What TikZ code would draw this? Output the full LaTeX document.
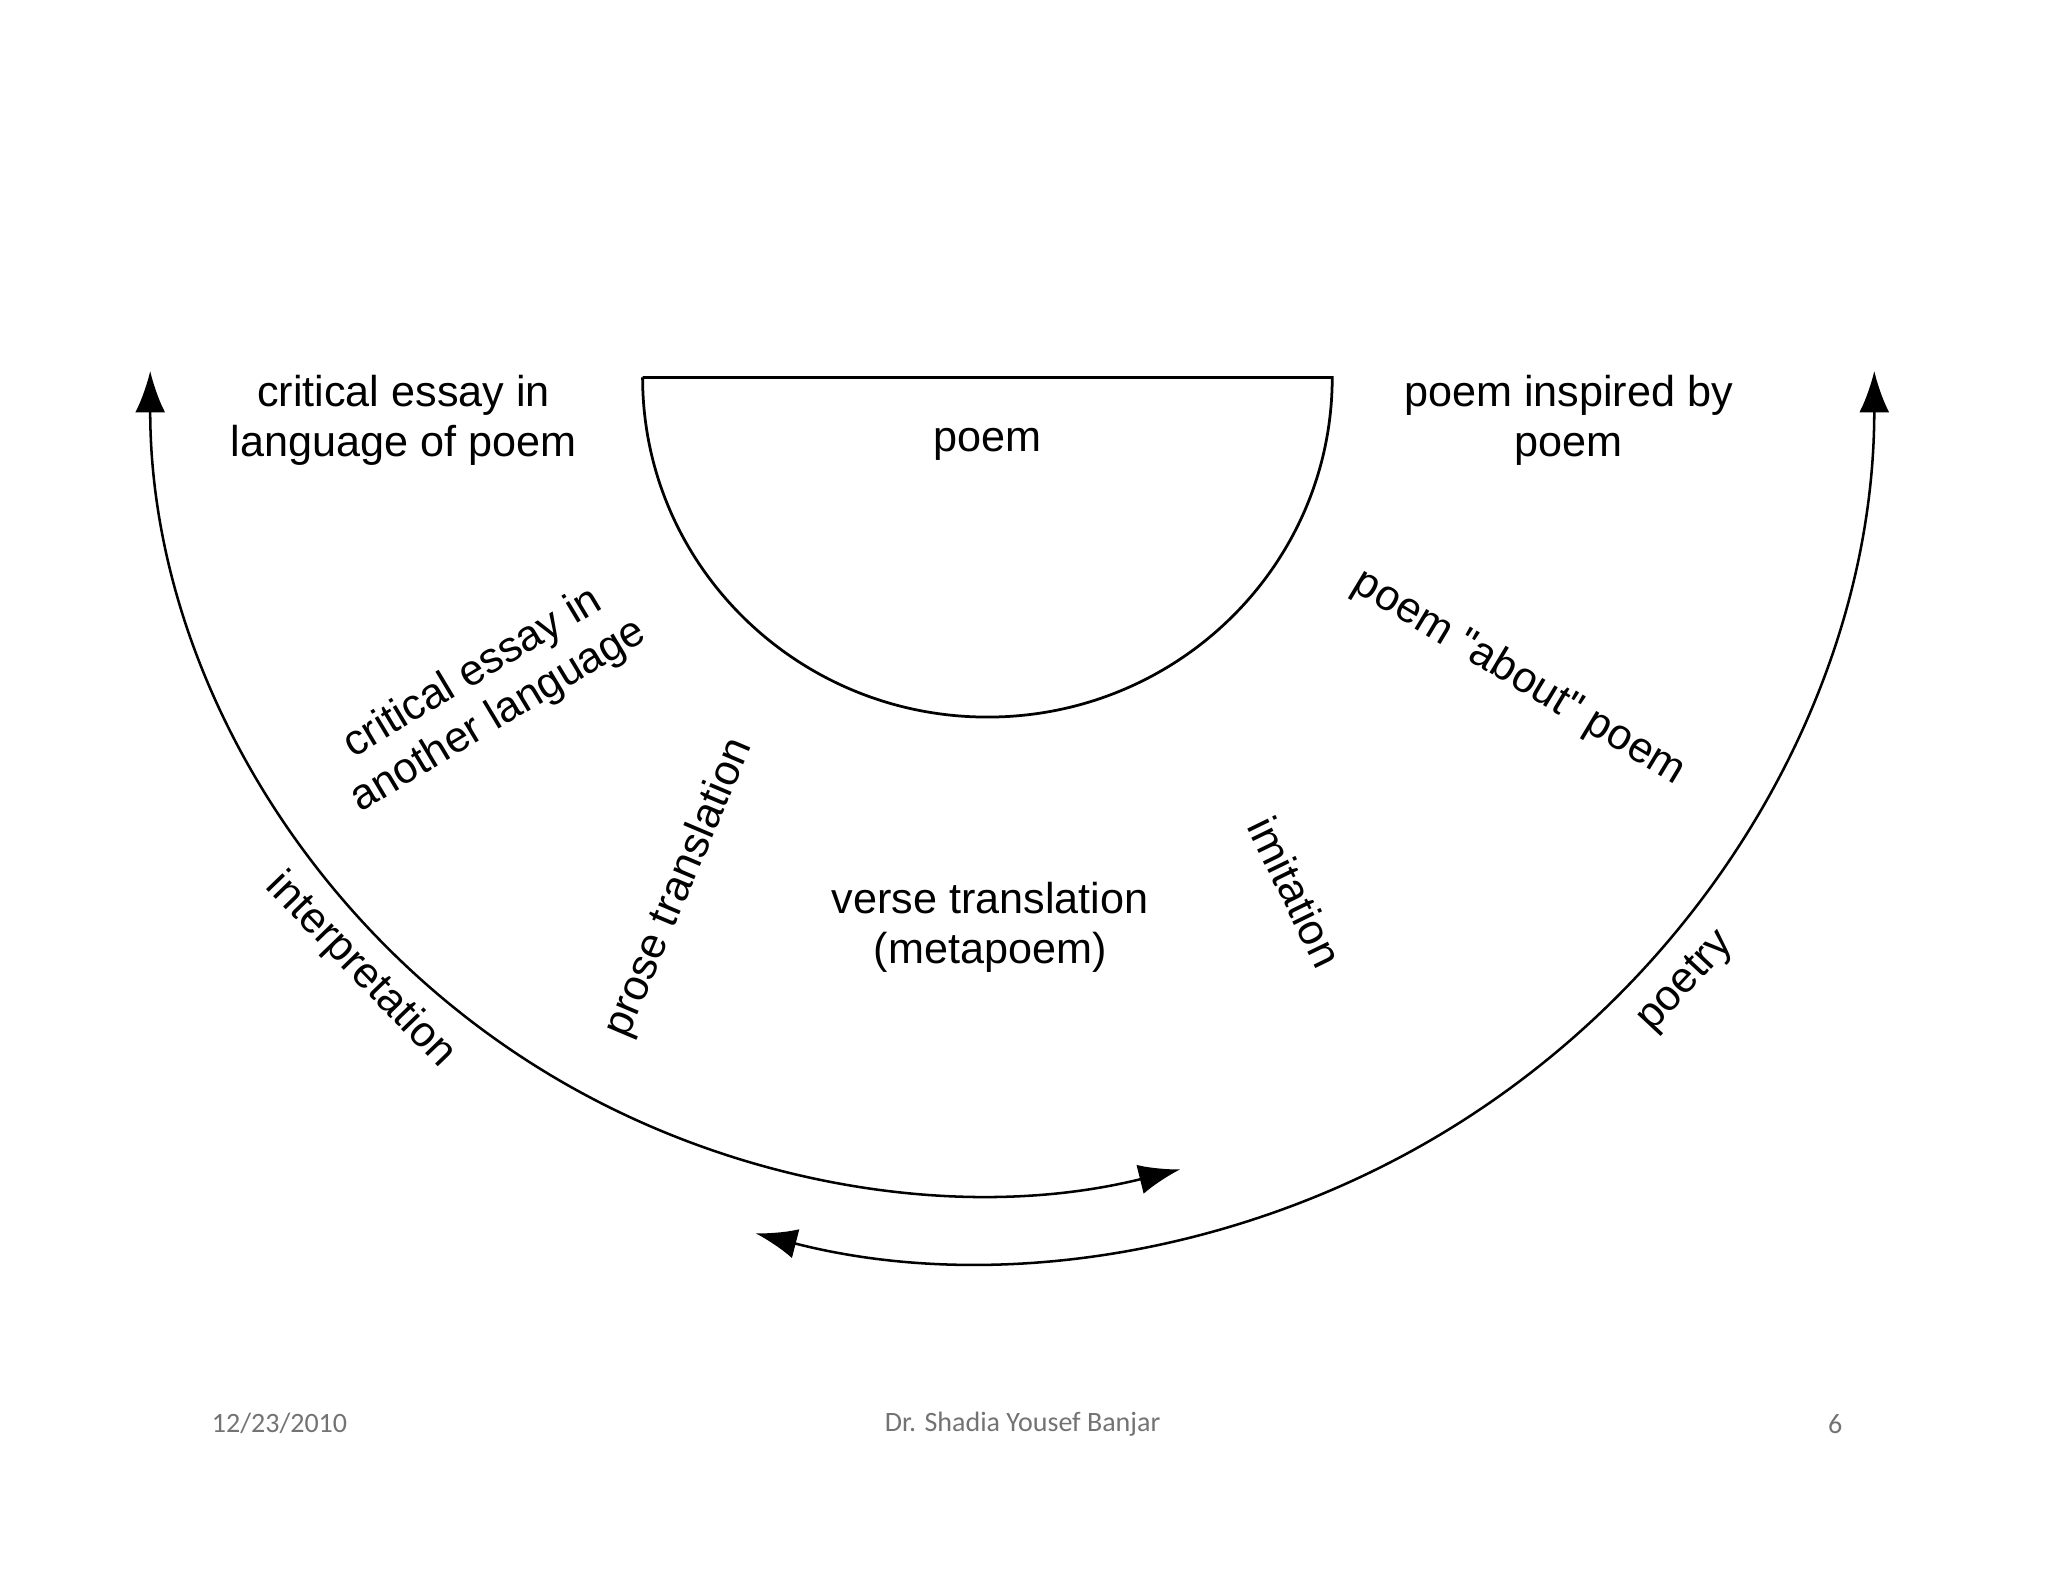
\documentclass[tikz,border=0pt]{standalone}
\usepackage{fontspec}
\setmainfont{Liberation Sans}
\newfontfamily\qfont{Liberation Sans}[Ligatures=ResetAll]
\newfontfamily\footfont{Carlito}
\usetikzlibrary{arrows.meta}
\begin{document}
\begin{tikzpicture}[x=0.01cm,y=-0.01cm,
  lbl/.style={font=\fontsize{9.4}{10.9}\selectfont,align=center,inner sep=0},
  foot/.style={font=\footfont\fontsize{6.1}{7}\selectfont,text=black!55,inner sep=0},
  arr/.style={line width=0.55pt,{Latex[length=9pt,width=6.5pt]}-{Latex[length=9pt,width=6.5pt]}}]
\useasboundingbox (0,0) rectangle (1568,1211);
\draw[line width=0.6pt] (492,289) -- (1020,289) arc[start angle=0,end angle=180,x radius=264,y radius=260];
\draw[arr] (115,284) arc[start angle=180,end angle=76,x radius=635,y radius=630];
\draw[arr] (1435,284) arc[start angle=0,end angle=104.5,x radius=685,y radius=682];
\node[lbl] (a) at (309,322) {critical essay in\\language of poem};
\node[lbl] (p) at (756,340) {poem};
\node[lbl] (b) at (1201,322) {poem inspired by\\poem};
\node[lbl,rotate=31] (c) at (372,532) {critical essay in\\another language};
\node[lbl,rotate=-31] (d) at (1163,519) {poem {\qfont"}about{\qfont"} poem};
\node[lbl,rotate=67] (e) at (520,680) {prose translation};
\node[lbl] (f) at (758,710) {verse translation\\(metapoem)};
\node[lbl,rotate=-64] (g) at (992,683) {imitation};
\node[lbl,rotate=-46] (h) at (276,743) {interpretation};
\node[lbl,rotate=47] (i) at (1291,752) {poetry};
\node[foot] (f1) at (214,1090) {12/23/2010};
\node[foot] (f2) at (783,1090) {Dr. Shadia Yousef Banjar};
\node[foot] (f3) at (1405,1090) {6};
\end{tikzpicture}
\end{document}
